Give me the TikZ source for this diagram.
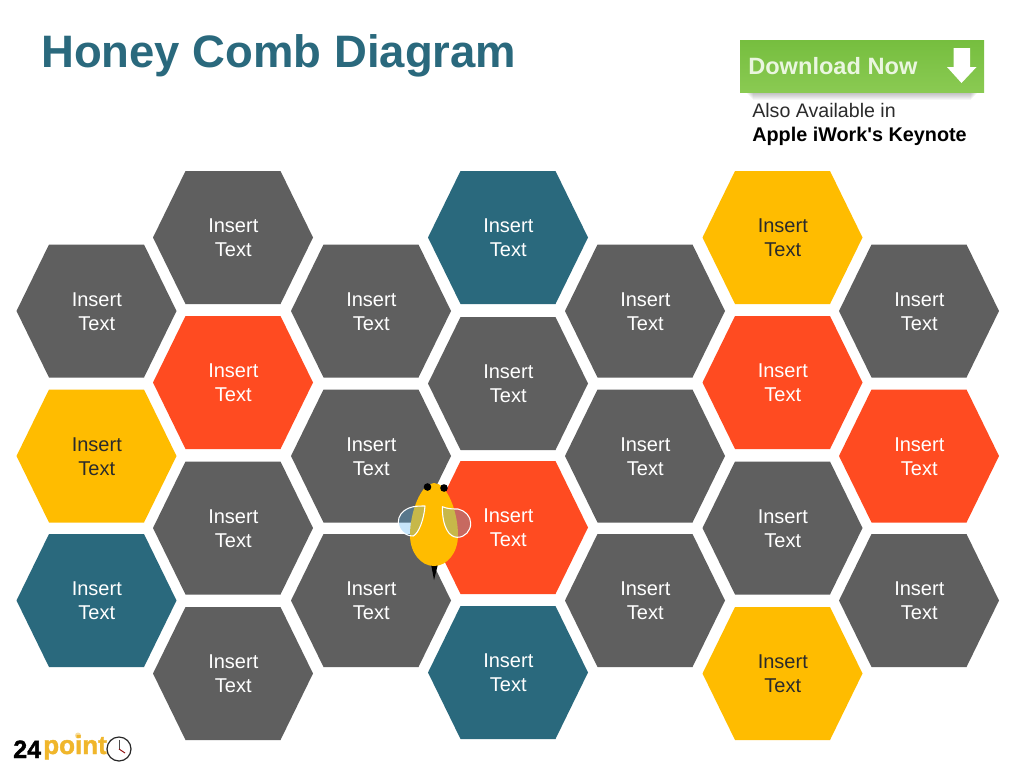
\documentclass[tikz,border=0pt]{standalone}
\usepackage{fontspec}
\setmainfont{Liberation Sans}
\newfontfamily\logofont[BoldFeatures={FakeBold=1.6}]{Liberation Sans}
\newfontfamily\applefont{Liberation Sans}
\definecolor{hgrey}{HTML}{5F5F5F}
\definecolor{horange}{HTML}{FF4B21}
\definecolor{hyellow}{HTML}{FFBC00}
\definecolor{hteal}{HTML}{2A697D}
\definecolor{htext}{HTML}{2B2B2B}
\definecolor{btop}{HTML}{76BE3F}
\definecolor{bbot}{HTML}{8ACA52}
\definecolor{blabel}{HTML}{EAF6DF}
\definecolor{wingblue}{HTML}{48AFF2}
\definecolor{logoyellow}{HTML}{F0B62B}
\tikzset{
  x=0.75pt,y=-0.75pt,
  hexlabel/.style={align=center,font=\fontsize{15}{18}\selectfont,inner sep=0pt},
  wingshape/.style={fill=wingblue,fill opacity=.3,draw=white,line width=.8pt,line join=round}
}
\newcommand{\hexcell}[5]{%
  \fill[#4] ({#2-80},#3) -- ({#2-47.5},{#3-66.5}) -- ({#2+47.5},{#3-66.5}) -- ({#2+80},#3) -- ({#2+47.5},{#3+66.5}) -- ({#2-47.5},{#3+66.5}) -- cycle;
  \node[hexlabel,text=#5] (#1) at ({#2+0.3},{#3+0.6}) {Insert\\Text};
}
\begin{document}
\begin{tikzpicture}
\useasboundingbox (0,0) rectangle (1024,768);
\fill[white] (0,0) rectangle (1024,768);
% column 1
\hexcell{a1}{96.5}{311}{hgrey}{white}
\hexcell{a2}{96.5}{456}{hyellow}{htext}
\hexcell{a3}{96.5}{600.5}{hteal}{white}
% column 2
\hexcell{b1}{233}{237.5}{hgrey}{white}
\hexcell{b2}{233}{382.5}{horange}{white}
\hexcell{b3}{233}{528}{hgrey}{white}
\hexcell{b4}{233}{673.5}{hgrey}{white}
% column 3
\hexcell{c1}{371}{311}{hgrey}{white}
\hexcell{c2}{371}{456}{hgrey}{white}
\hexcell{c3}{371}{600.5}{hgrey}{white}
% column 4
\hexcell{d1}{508}{237.5}{hteal}{white}
\hexcell{d2}{508}{383.5}{hgrey}{white}
\hexcell{d3}{508}{527.5}{horange}{white}
\hexcell{d4}{508}{672.5}{hteal}{white}
% column 5
\hexcell{e1}{645}{311}{hgrey}{white}
\hexcell{e2}{645}{456}{hgrey}{white}
\hexcell{e3}{645}{600.5}{hgrey}{white}
% column 6
\hexcell{f1}{782.5}{237.5}{hyellow}{htext}
\hexcell{f2}{782.5}{382.5}{horange}{white}
\hexcell{f3}{782.5}{528}{hgrey}{white}
\hexcell{f4}{782.5}{673.5}{hyellow}{htext}
% column 7
\hexcell{g1}{919}{311}{hgrey}{white}
\hexcell{g2}{919}{456}{horange}{white}
\hexcell{g3}{919}{600.5}{hgrey}{white}
% title
\node[anchor=base west,inner sep=0pt,text=hteal,font=\fontsize{34.1}{40}\selectfont\bfseries] (title) at (41,67) {Honey Comb Diagram};
% download button
\foreach \i in {1,...,9}{
  \fill[black,opacity=.035] ({744+\i},88) rectangle ({980-\i},{91+\i});
}
\shade[top color=btop,bottom color=bbot] (740,40) rectangle (984,92);
\node[anchor=base west,inner sep=0pt,text=blabel,font=\fontsize{17.7}{20}\selectfont\bfseries] (download) at (748,74) {Download Now};
\fill[white] (953.5,48) -- (970,48) -- (970,67) -- (976.5,67) -- (961.5,83) -- (947,67) -- (953.5,67) -- cycle;
\node[anchor=base west,inner sep=0pt,text=htext,font=\fontsize{14.7}{18}\selectfont] (also) at (752,117) {Also Available in};
\node[anchor=base west,inner sep=0pt,text=black,font=\fontsize{14.85}{18}\applefont\bfseries] (apple) at (752,141) {Apple iWork's Keynote};
% bee
\fill[black] (431,564) -- (438,564) -- (434,580) -- cycle;
\fill[hyellow] (434,483) .. controls (447,483) and (458,512) .. (458,535) .. controls (458,553) and (447,566) .. (434,566) .. controls (421,566) and (410,553) .. (410,535) .. controls (410,512) and (421,483) .. (434,483) -- cycle;
\fill[black] (427.5,487) circle (3.8);
\fill[black] (444,488) circle (3.8);
\path[wingshape] (425,506) .. controls (419,506) and (414,506) .. (409,508) .. controls (402,511) and (398.3,516) .. (398.3,522) .. controls (398.3,530) and (405,536) .. (413.3,536) .. controls (419,533) and (424,519) .. (425,506) -- cycle;
\path[wingshape] (442.3,506.7) .. controls (448,509) and (453,509) .. (458,509) .. controls (465,510.5) and (470.7,516) .. (470.7,523.3) .. controls (470.7,531) and (465,537.3) .. (457.3,537.3) .. controls (449,537.3) and (442.3,527) .. (442.3,506.7) -- cycle;
% logo
\fill[logoyellow!45] (78,735.5) circle (3);
\node[anchor=base west,inner sep=0pt,text=black,font=\fontsize{18.75}{20}\logofont\bfseries] (twentyfour) at (13,758) {24};
\node[anchor=base west,inner sep=0pt,text=logoyellow,font=\fontsize{19.5}{20}\logofont\bfseries] (point) at (43,754) {point};
\node[circle,draw=black!85,line width=.9pt,minimum size=18pt,inner sep=0pt,fill=white] (clock) at (119,749) {};
\draw[black!70,line width=.7pt] (clock.center) -- (119,740);
\draw[red!55!black,line width=.7pt] (clock.center) -- (125,753);
\end{tikzpicture}
\end{document}
